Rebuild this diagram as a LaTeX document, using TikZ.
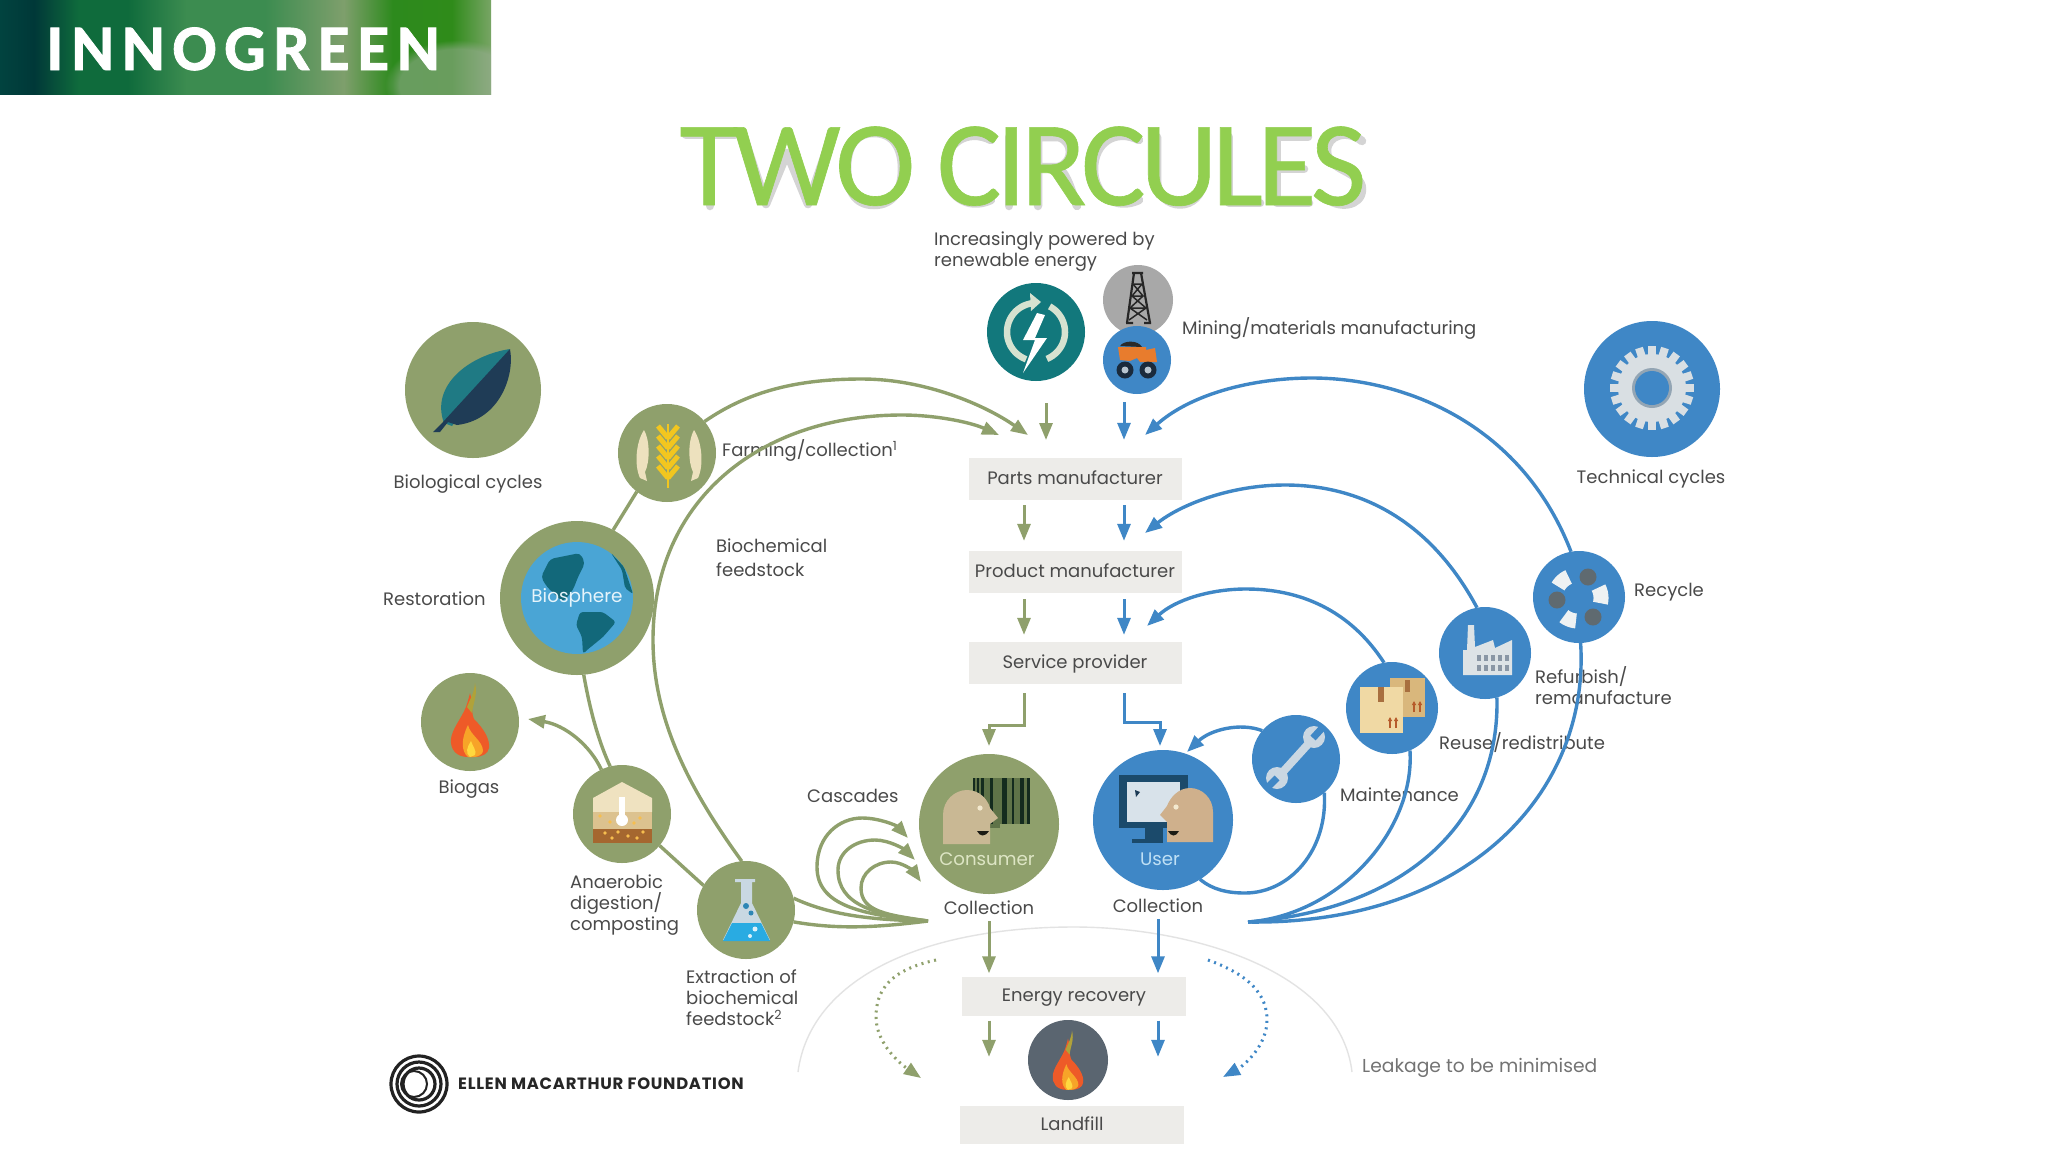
\documentclass[tikz,border=0pt]{standalone}
\usepackage{fontspec}
\usetikzlibrary{arrows.meta,fadings,shadows}
\setmainfont{Poppins}
\newfontfamily\bannerfont[LetterSpace=12,BoldFeatures={FakeBold=1.2}]{Carlito}
\newfontfamily\titlefont[LetterSpace=-4.6,Kerning=Off,FakeBold=0.5]{Carlito}
\newfontfamily\foundfont[LetterSpace=4.5]{Poppins}
\definecolor{cgreen}{HTML}{8FA06C}
\definecolor{cblue}{HTML}{3F87C6}
\definecolor{ctext}{HTML}{4A4A4A}
\definecolor{cbox}{HTML}{EDECE9}
\definecolor{cpale}{HTML}{DDE3E6}
\definecolor{ctitle}{HTML}{92CF50}
\definecolor{cteal}{HTML}{12787C}
\definecolor{cglobe}{HTML}{4AA5D5}
\definecolor{cburn}{HTML}{5A6570}
\definecolor{cconsl}{HTML}{DDE5C4}
\definecolor{cuserl}{HTML}{BFE0F5}
\definecolor{cbiol}{HTML}{E6F4FB}
\definecolor{b0}{HTML}{01433F}\definecolor{b1}{HTML}{003838}\definecolor{b2}{HTML}{0F6B3C}
\definecolor{b3}{HTML}{3C8C50}\definecolor{b4}{HTML}{7E9F6C}\definecolor{b5}{HTML}{2D8A1D}
\definecolor{b6}{HTML}{2F8B1A}\definecolor{b7}{HTML}{78A565}
\pgfdeclarehorizontalshading{bannerfill}{100bp}{
  color(0bp)=(b0);color(25bp)=(b0);color(28.5bp)=(b1);color(33bp)=(b2);color(38bp)=(b2);color(44bp)=(b3);
  color(52bp)=(b3);color(60bp)=(b4);color(65bp)=(b5);color(71bp)=(b6);color(75bp)=(b7);color(100bp)=(b7)}
\tikzset{
  x=1pt,y=-1pt,
  HTML/.code={\definecolor{tmpc}{HTML}{#1}\pgfkeysalso{color=tmpc}},
  disc/.style={circle,inner sep=0pt,outer sep=0pt,draw=none},
  gdisc/.style={disc,fill=cgreen},
  bdisc/.style={disc,fill=cblue},
  lab/.style={text=ctext,font=\fontsize{18}{21}\selectfont,inner sep=0pt,align=left,yshift=-1.5pt},
  boxn/.style={fill=cbox,minimum width=213pt,minimum height=42pt,inner sep=0pt,text=ctext,text height=13.5pt,text depth=2.5pt,font=\fontsize{18}{21}\selectfont},
  tip/.style={-{Triangle[length=17pt,width=13pt]}},
  gc/.style={draw=cgreen,line width=3.4pt},
  bc/.style={draw=cblue,line width=3.4pt},
  gv/.style={draw=cgreen,line width=3pt,tip},
  bv/.style={draw=cblue,line width=3pt,tip},
  dots/.style={line width=3pt,dash pattern=on 2pt off 4.5pt,tip}
}
\newcommand{\flameicon}[3]{%
 \begin{scope}[shift={(#1,#2)},scale=#3]
  \fill[HTML=EE5A28] (-2,36) .. controls (-14,36) and (-20,28) .. (-19,18) .. controls (-18,8) and (-9,-2) .. (-4,-14) .. controls (-2,-20) and (-1,-24) .. (0,-28) .. controls (3,-18) and (1,-8) .. (4,-2) .. controls (14,8) and (20,18) .. (19,27) .. controls (18,33) and (12,36) .. (4,36) -- cycle;
  \fill[HTML=B0A23A] (5,-38) .. controls (8,-26) and (3,-18) .. (2,-8) -- (-3,-14) .. controls (0,-22) and (4,-27) .. (5,-38) -- cycle;
  \fill[HTML=F7A428] (-2,36) .. controls (-9,30) and (-9,18) .. (-2,4) .. controls (0,14) and (13,20) .. (13,30) .. controls (13,33) and (8,36) .. (4,36) -- cycle;
  \fill[HTML=FFD83F] (0,36) .. controls (-5,32) and (-3,26) .. (1,20) .. controls (3,26) and (7,30) .. (5,34) -- cycle;
 \end{scope}}
\begin{document}
\begin{tikzpicture}
\useasboundingbox (0,0) rectangle (2048,1152);
\fill[white] (0,0) rectangle (2048,1152);
% banner
\shade[shading=bannerfill] (0,0) rectangle (491,94);
\begin{scope}
\clip (0,0) rectangle (491,94);
\fill[HTML=A3B0A0,opacity=.5,path fading=circle with fuzzy edge 20 percent] (385,40) rectangle (530,130);
\end{scope}
\node[text=white,font=\bannerfont\bfseries\fontsize{65}{65}\selectfont,inner sep=0pt,anchor=base west] (brand) at (46,70) {INNOGREEN};
% title shadow, drawn as strokes behind the title
\begin{scope}[shift={(2,3)},draw=black!17,line width=8.5pt,line cap=round,line join=round]
\draw (684,132) -- (733,132) (708,134) -- (708,203);
\draw (742,134) -- (764,201) -- (785,150) -- (806,201) -- (829,134);
\draw (872,130) .. controls (892,130) and (900,146) .. (900,166) .. controls (900,186) and (892,202) .. (872,202) .. controls (852,202) and (845,186) .. (845,166) .. controls (845,146) and (852,130) .. (872,130) -- cycle;
\draw (989,137) .. controls (965,125) and (943,140) .. (943,166) .. controls (943,192) and (965,208) .. (989,197);
\draw (1007,134) -- (1007,203);
\draw (1036,203) -- (1036,134) -- (1056,134) .. controls (1072,138) and (1072,160) .. (1056,164) -- (1038,164) (1056,164) .. controls (1066,172) and (1070,190) .. (1075,203);
\draw (1137,137) .. controls (1113,125) and (1092,140) .. (1092,166) .. controls (1092,192) and (1113,208) .. (1137,197);
\draw (1155,134) -- (1155,176) .. controls (1155,210) and (1201,210) .. (1201,176) -- (1201,134);
\draw (1227,134) -- (1227,200) -- (1258,200);
\draw (1306,134) -- (1275,134) -- (1275,200) -- (1307,200) (1275,166) -- (1302,166);
\draw (1360,138) .. controls (1345,126) and (1325,132) .. (1325,148) .. controls (1325,168) and (1360,168) .. (1360,186) .. controls (1360,204) and (1335,206) .. (1323,194);
\end{scope}
% title
\node[text=ctitle,font=\titlefont\fontsize{121}{121}\selectfont,inner sep=0pt,anchor=base] (title) at (1023,205) {TWO CIRCULES};

% leakage arc
\draw[black!11,line width=1.4pt] (798,1072) .. controls (810,980) and (920,927) .. (1074,927) .. controls (1190,927) and (1340,970) .. (1352,1072);

% discs
\node[gdisc,minimum size=136pt] (biocyc) at (473,390) {};
\node[gdisc,minimum size=98pt] (farm) at (667,453) {};
\node[gdisc,minimum size=154pt] (bio) at (577,598) {};
\node[gdisc,minimum size=98pt] (biogas) at (470,722) {};
\node[gdisc,minimum size=98pt] (anaer) at (622,814) {};
\node[gdisc,minimum size=98pt] (extr) at (746,910) {};
\node[gdisc,minimum size=140pt] (cons) at (989,824) {};
\node[bdisc,minimum size=140pt] (user) at (1163,820) {};
\node[bdisc,minimum size=88pt] (maint) at (1296,759) {};
\node[bdisc,minimum size=92pt] (reuse) at (1392,708) {};
\node[bdisc,minimum size=92pt] (refurb) at (1485,653) {};
\node[bdisc,minimum size=92pt] (recyc) at (1579,597) {};
\node[bdisc,minimum size=136pt] (tech) at (1652,389) {};
\node[disc,fill=black!34,minimum size=70pt] (derrick) at (1138,300) {};
\node[bdisc,minimum size=68pt] (truck) at (1137,360) {};
\node[disc,fill=cteal,minimum size=98pt] (renew) at (1036,332) {};
\node[disc,fill=cburn,minimum size=80pt] (burn) at (1068,1060) {};

% boxes
\node[boxn] (parts) at (1075,479) {Parts manufacturer};
\node[boxn] (prod) at (1075,572) {Product manufacturer};
\node[boxn] (serv) at (1075,663) {Service provider};
\node[boxn,minimum width=224pt,minimum height=39pt] (energy) at (1074,996) {Energy recovery};
\node[boxn,minimum width=224pt,minimum height=38pt,xshift=-2pt] (landfill) at (1074,1125) {Landfill};

% labels
\node[lab,anchor=west] (lrenew) at (934,250) {Increasingly powered by\\renewable energy};
\node[lab,anchor=west] (lmine) at (1182,327) {Mining/materials manufacturing};
\node[lab] (ltech) at (1651,477) {Technical cycles};
\node[lab,anchor=west] (lrecy) at (1634,591) {Recycle};
\node[lab,anchor=west] (lrefu) at (1535,684.5) {Refurbish/\\remanufacture};
\node[lab,anchor=west] (lreus) at (1439,741) {Reuse/redistribute};
\node[lab,anchor=west] (lmain) at (1340,793) {Maintenance};
\node[lab] (lbioc) at (468,483) {Biological cycles};
\node[lab,anchor=west] (lfarm) at (722,449) {Farming/collection\textsuperscript{1}};
\node[lab,anchor=west] (lfeed) at (716,556) {Biochemical\\[2.5pt]feedstock};
\node[lab,anchor=west] (lrest) at (383,597) {Restoration};
\node[lab] (lbiog) at (469,788) {Biogas};
\node[lab,anchor=west] (lanae) at (570,904) {Anaerobic\\digestion/\\composting};
\node[lab,anchor=west] (lcasc) at (807,794) {Cascades};
\node[lab,yshift=1.5pt] (colL) at (989,908) {Collection};
\node[lab,yshift=1.5pt] (colR) at (1158,906) {Collection};
\node[lab,anchor=west] (lextr) at (686,996) {Extraction of\\biochemical\\feedstock\textsuperscript{2}};
\node[lab,anchor=west,text=black!55,font=\fontsize{18.7}{21}\selectfont] (lleak) at (1362,1066) {Leakage to be minimised};

% biological connectors
\coordinate (ga) at (1028,435);
\coordinate (gb) at (999,435);
\coordinate (cc) at (928,921);
\coordinate (c1) at (908,838);
\coordinate (c2) at (915,860);
\coordinate (c3) at (921,882);
\coordinate (gbtip) at (528,719);
\draw[gc,tip] (farm.40) .. controls (750,390) and (800,379) .. (862,379) .. controls (925,379) and (985,405) .. (ga);
\draw[gc,tip] (extr.95) .. controls (690,790) and (653,720) .. (653,640) .. controls (653,500) and (760,415) .. (902,415) .. controls (935,415) and (970,422) .. (gb);
\draw[gc] (bio.62) -- (farm.-128);
\draw[gc] (bio.-85) .. controls (590,710) and (598,740) .. (anaer.104);
\draw[gc] (anaer.-40) -- (extr.150);
\draw[gc,tip] (anaer.115) .. controls (590,745) and (565,725) .. (gbtip);
\draw[gc] (extr.14) .. controls (830,915) and (870,920) .. (cc);
\draw[gc] (extr.-14) .. controls (840,930) and (880,927) .. (cc);
\draw[gc,tip] (cc) .. controls (860,915) and (817,905) .. (817,867) .. controls (817,835) and (840,818) .. (862,818) .. controls (880,818) and (897,826) .. (c1);
\draw[gc,tip] (cc) .. controls (875,915) and (838,905) .. (838,870) .. controls (838,852) and (855,840) .. (875,840) .. controls (890,840) and (905,850) .. (c2);
\draw[gc,tip] (cc) .. controls (888,915) and (861,912) .. (861,888) .. controls (861,873) and (875,862) .. (891,862) .. controls (903,862) and (914,872) .. (c3);

% technical connectors
\coordinate (ba) at (1145,435);
\coordinate (bb) at (1145,533);
\coordinate (bd) at (1147,626);
\coordinate (bu) at (1187,752);
\coordinate (bconv) at (1248,922);
\draw[bc,tip] (recyc.100) .. controls (1520,420) and (1400,378) .. (1312,378) .. controls (1250,378) and (1190,395) .. (ba);
\draw[bc,tip] (refurb.100) .. controls (1430,520) and (1360,485) .. (1285,485) .. controls (1230,485) and (1180,505) .. (bb);
\draw[bc,tip] (reuse.100) .. controls (1350,610) and (1300,589) .. (1246,589) .. controls (1210,589) and (1175,600) .. (bd);
\draw[bc,tip] (maint.140) .. controls (1240,722) and (1210,730) .. (bu);
\draw[bc] (maint.-50) .. controls (1328,850) and (1290,893) .. (1245,893) .. controls (1228,893) and (1213,890) .. (user.-58);
\draw[bc] (reuse.-67) .. controls (1415,830) and (1340,915) .. (bconv);
\draw[bc] (refurb.-75) .. controls (1500,810) and (1420,908) .. (bconv);
\draw[bc] (recyc.-88) .. controls (1590,790) and (1470,925) .. (bconv);

% vertical arrows
\coordinate (xg) at (1024,0);
\coordinate (xb) at (1124,0);
\coordinate (xu) at (1160,0);
\coordinate (topg) at (1046,403);
\coordinate (topb) at (1124,402);
\coordinate (topgend) at (1046,440);
\draw[gv] (topg) -- (topgend);
\draw[bv,shorten >=18pt] (topb) -- (parts.north -| xb) ;
\draw[gv,shorten <=5pt,shorten >=10pt] (parts.south -| xg) -- (prod.north -| xg);
\draw[bv,shorten <=5pt,shorten >=10pt] (parts.south -| xb) -- (prod.north -| xb);
\draw[gv,shorten <=6pt,shorten >=7pt] (prod.south -| xg) -- (serv.north -| xg);
\draw[bv,shorten <=6pt,shorten >=7pt] (prod.south -| xb) -- (serv.north -| xb);
\draw[gv,shorten <=9pt,shorten >=8pt] (serv.south -| xg) -- ++(0,41) -- ++(-35,0) -- (cons.north);
\draw[bv,shorten <=9pt,shorten >=4pt] (serv.south -| xb) -- ++(0,38) -- ++(36,0) -- (user.north -| xu);
\draw[gv,shorten <=6pt,shorten >=3pt] (colL.south) -- (colL.south |- energy.north);
\draw[bv,shorten <=6pt,shorten >=3pt] (colR.south) -- (colR.south |- energy.north);
\draw[gv,shorten <=5pt,shorten >=49pt] (energy.south -| colL.south) -- (landfill.north -| colL.south);
\draw[bv,shorten <=5pt,shorten >=49pt] (energy.south -| colR.south) -- (landfill.north -| colR.south);

% dotted leakage arrows
\draw[dots,draw=cgreen] (936,960) .. controls (890,970) and (876,990) .. (876,1017) .. controls (876,1040) and (895,1060) .. (921,1078);
\draw[dots,draw=cblue] (1208,960) .. controls (1250,975) and (1267,995) .. (1267,1020) .. controls (1267,1045) and (1245,1065) .. (1223,1077);

% ---- icons ----
% leaf
\fill[HTML=1F7A84] (510,349) .. controls (470,355) and (430,385) .. (444,423) -- (452,426) -- cycle;
\fill[HTML=1F3C56] (510,349) .. controls (515,375) and (500,420) .. (457,425) -- (448,422) -- (440,432) -- (433,432) -- (443,422) -- cycle;
% wheat
\draw[HTML=F2C61F,line width=2.6pt] (668,424) -- (668,488);
\foreach \yy in {426,436,446,456,466}{
  \draw[HTML=F2C61F,line width=5pt] (668,\yy+12) -- (658,\yy);
  \draw[HTML=F2C61F,line width=5pt] (668,\yy+12) -- (678,\yy);}
\fill[HTML=EDE1BE] (644,430) .. controls (650,440) and (650,462) .. (645,472) -- (647,481) -- (640,478) .. controls (634,465) and (636,442) .. (644,430) -- cycle;
\fill[HTML=EDE1BE] (694,430) .. controls (688,440) and (688,462) .. (693,472) -- (691,481) -- (698,478) .. controls (704,465) and (702,442) .. (694,430) -- cycle;
% globe
\node[disc,fill=cglobe,minimum size=112pt] (globe) at (577,598) {};
\fill[HTML=12687A,rounded corners=4pt] (550,559) -- (580,553) -- (585,563) -- (578,577) -- (573,590) -- (563,602) -- (547,587) -- (541,577) -- cycle;
\fill[HTML=12687A,rounded corners=3pt] (580,612) -- (603,612) -- (616,622) -- (603,637) -- (587,650) -- (583,654) -- (582,637) -- (576,625) -- cycle;
\fill[HTML=12687A,rounded corners=2pt] (611,553) -- (624,567) -- (633,594) -- (625,588) -- (622,570) -- cycle;
\node[text=cbiol,font=\fontsize{18.4}{20}\selectfont,inner sep=0pt] (tbio) at (577,598) {Biosphere};
% flames
\flameicon{470}{721}{1}
\flameicon{1068}{1061}{0.8}
% anaerobic
\fill[HTML=EFE2C0] (622,782) -- (652,798) -- (652,812) -- (593,812) -- (593,798) -- cycle;
\fill[HTML=DCC28F] (593,812) rectangle (652,829);
\fill[HTML=A5672F] (593,829) rectangle (652,843);
\fill[white] (619,797) rectangle (625,815);
\fill[white] (622,820) circle[radius=6];
\foreach \px/\py in {600/816, 610/822, 640/818, 634/823, 605/833, 618/832, 628/836, 643/832, 612/838, 637/838}{\fill[HTML=F6BE4F] (\px,\py) circle[radius=1.8];}
% flask
\fill[HTML=C9D8E2] (735,879) -- (755,879) -- (755,882) -- (752,882) -- (752,903) -- (770,940) -- (723,940) -- (741,903) -- (741,882) -- (735,882) -- cycle;
\fill[HTML=29ABE2] (732,923) -- (761,923) -- (770,941) -- (723,941) -- cycle;
\fill[HTML=2E86B5] (746,906) circle[radius=3]; \fill[HTML=2E86B5] (751,913) circle[radius=2.5];
\fill[HTML=DDF1FA] (755,929) circle[radius=2.5]; \fill[HTML=DDF1FA] (750,936) circle[radius=2];
% consumer
\fill[HTML=5F7348] (973,778) rectangle (1030,828);
\foreach \bx/\bw in {973/2,977/2,981/3,990/3,1002/5,1012/2,1020/4,1027/3}{\fill[HTML=142B1E] (\bx,778) rectangle ++(\bw,46);}
\fill[cgreen] (1000,824) rectangle (1032,830);
\fill[HTML=C9B894] (943,844) -- (943,815) .. controls (943,800) and (955,790) .. (967,790) .. controls (980,790) and (988,800) .. (990,808) -- (998,818) -- (990,824) -- (990,844) -- cycle;
\fill[HTML=F3E9CF] (980,808) circle[radius=2.6];
\fill[HTML=1B1B14] (977,831) .. controls (980,837) and (985,837) .. (989,831) -- cycle;
\node[text=cconsl,font=\fontsize{18.2}{20}\selectfont,inner sep=0pt] (tcons) at (987,859) {Consumer};
% user
\fill[HTML=1B4A6B] (1119,775) rectangle (1188,828);
\fill[HTML=D8E2EA] (1127,782) rectangle (1180,822);
\fill[HTML=1B4A6B] (1145,828) rectangle (1163,842);
\fill[HTML=1B4A6B] (1132,839) rectangle (1163,843);
\fill[HTML=1B3A55] (1135,790) -- (1140,792) -- (1136,797) -- cycle;
\fill[HTML=CFB08C] (1213,842) -- (1213,812) .. controls (1213,798) and (1202,788) .. (1190,788) .. controls (1178,788) and (1170,798) .. (1167,806) -- (1160,815) -- (1167,822) -- (1167,842) -- cycle;
\fill[HTML=F3E9CF] (1176,807) circle[radius=2.6];
\fill[HTML=1B1B14] (1168,831) .. controls (1171,837) and (1176,837) .. (1179,831) -- cycle;
\node[text=cuserl,font=\fontsize{18.2}{20}\selectfont,inner sep=0pt] (tuser) at (1160,859) {User};
% wrench
\draw[HTML=CAD7E2,line width=8pt] (1310,742) -- (1281,774);
\fill[HTML=CAD7E2] (1314,737) circle[radius=11];
\fill[HTML=CAD7E2] (1277,778) circle[radius=11];
\draw[cblue,line width=7pt] (1313,738) -- (1324,726);
\draw[cblue,line width=7pt] (1277,778) -- (1266,789);
% boxes
\fill[HTML=D9B77C] (1390,678) rectangle (1425,717);
\fill[HTML=A86F3F] (1405,680) rectangle (1410,692);
\fill[HTML=F0D9A4] (1360,687) rectangle (1403,733);
\fill[HTML=A86F3F] (1378,687) rectangle (1384,702);
\foreach \ax/\ay in {1390/728,1396/728,1414/712,1420/712}{
  \draw[HTML=B65A2A,line width=1.6pt,-{Triangle[length=4pt,width=4pt]}] (\ax,\ay) -- ++(0,-11);}
% factory
\fill[cpale] (1463,675) -- (1463,650) -- (1467,650) -- (1468,625) -- (1474,625) -- (1475,647) -- (1493,640) -- (1495,648) -- (1512,640) -- (1512,675) -- cycle;
\foreach \wx in {1477,1484,1491,1498,1505}{\foreach \wy in {655,665}{\fill[HTML=8A97A5] (\wx,\wy) rectangle ++(3.5,6);}}
% recycle
\foreach \ca/\cb in {95/128,-27/13,210/246}{
  \draw[HTML=EEF2F3,line width=15pt] plot[domain=\ca:\cb,samples=12] ({1578+23*cos(\x)},{598+23*sin(\x)});}
\foreach \rx/\ry in {1588/577,1557/600,1593/617}{\fill[HTML=5F6A70] (\rx,\ry) circle[radius=8.5];}
% gear
\foreach \ga in {0,18,...,342}{\fill[HTML=D9DFE3,rotate around={\ga:(1652,388)}] (1648,346) rectangle (1656,360);}
\fill[HTML=D9DFE3] (1652,388) circle[radius=34];
\fill[HTML=93A5B4] (1652,388) circle[radius=20];
\fill[cblue] (1652,388) circle[radius=17];
% renewable
\draw[HTML=D6E2D0,line width=6.5pt] plot[domain=110:262,samples=30] ({1036+29*cos(\x)},{332+29*sin(\x)});
\draw[HTML=D6E2D0,line width=6.5pt] plot[domain=-62:68,samples=30] ({1036+29*cos(\x)},{332+29*sin(\x)});
\fill[HTML=D6E2D0] (1030,293) -- (1041,302) -- (1031,311) -- cycle;
\fill[white] (1037,313) -- (1023,340) -- (1035,340) -- (1023,373) -- (1047,338) -- (1035,338) -- (1045,315) -- cycle;
% derrick
\draw[black!85,line width=2.2pt] (1134,273) -- (1127,323) (1141,273) -- (1150,323) (1132,273) -- (1143,273) (1126,323) -- (1133,323) (1144,323) -- (1151,323);
\draw[black!85,line width=1.5pt] (1133,284) -- (1143,296) -- (1130,308) -- (1147,320) (1142,284) -- (1132,296) -- (1146,308) -- (1129,320) (1133,284) -- (1142,284) (1132,296) -- (1143,296) (1130,308) -- (1146,308);
% truck
\fill[HTML=2A2A2A] (1120,346) .. controls (1124,340) and (1138,340) .. (1142,347) -- cycle;
\fill[HTML=E87C2D] (1118,347) -- (1146,347) -- (1146,350) -- (1155,348) -- (1157,362) -- (1140,362) -- (1137,358) -- (1130,361) -- (1120,360) -- cycle;
\foreach \wx in {1125,1148}{\fill[HTML=1A2A3C] (\wx,370) circle[radius=8.5];\fill[HTML=B7C4CF] (\wx,370) circle[radius=3.5];}
% foundation logo
\foreach \rr in {28,22,16}{\draw[HTML=222222,line width=3.2pt] (419,1084) circle[radius=\rr];}
\draw[HTML=222222,line width=2pt] (414,1084) circle[radius=13];
\node[text=black!85,font=\foundfont\bfseries\fontsize{16.4}{17}\selectfont,inner sep=0pt,anchor=west] (lfound) at (458,1084) {ELLEN MACARTHUR FOUNDATION};
\end{tikzpicture}
\end{document}
